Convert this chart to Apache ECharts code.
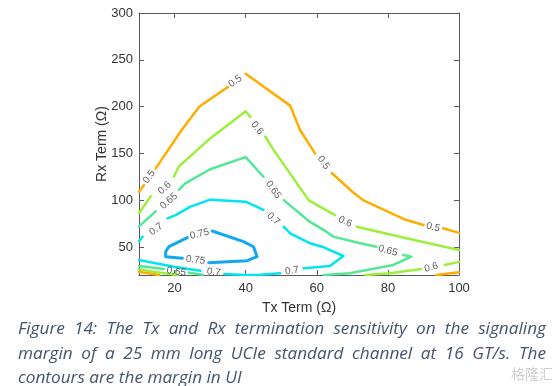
<!DOCTYPE html>
<html>
<head>
<meta charset="utf-8">
<script src="https://cdn.jsdelivr.net/npm/echarts@6/dist/echarts.min.js"></script>
<style>
  html, body { margin:0; padding:0; background:#fff; }
  #wrap { position:relative; width:556px; height:386px; overflow:hidden; }
  #chart { position:absolute; left:0; top:0; width:556px; height:386px; }
  .cap { position:absolute; left:18px; width:528px; font-family:"Open Sans", sans-serif; font-style:italic; font-size:17.2px; color:#44546A; line-height:24px; white-space:nowrap; }
  .just { text-align:justify; text-align-last:justify; white-space:normal; }
  #wm { position:absolute; left:511px; top:364px; font-family:"Noto Sans CJK SC", sans-serif; font-size:14px; line-height:18px; color:#cfcfcf; }
</style>
</head>
<body>
<div id="wrap">
  <div id="chart"></div>
  <div class="cap just" style="top:316px;">Figure 14: The Tx and Rx termination sensitivity on the signaling</div>
  <div class="cap just" style="top:341px;">margin of a 25 mm long UCIe standard channel at 16 GT/s. The</div>
  <div class="cap" style="top:365px;">contours are the margin in UI</div>
  <div id="wm">格隆汇</div>
</div>
<script>
// ---- data ----
const xTicks = [20, 40, 60, 80, 100];
const yTicks = [50, 100, 150, 200, 250, 300];
const levelNames = ['0.5', '0.6', '0.65', '0.7', '0.75'];

// contour segments (Tx, Rx) per level; gaps are where the inline labels sit
const contour050 = [
  [[10,109],[11.4,116]],
  [[14.7,134],[22,175],[27,200],[35,221]],
  [[40,235],[52.5,201],[55.3,175],[59.5,150]],
  [[64.2,129],[70,109],[73,100],[85,79],[90,73.4]],
  [[95.5,70],[100,65]],
  [[10,23.5],[15.6,20]],
  [[93.6,20],[100,22.9]]
];
const contour060 = [
  [[10,86],[13.3,104]],
  [[19.8,125],[21.2,136],[30,166],[40,195],[41.3,189]],
  [[45.5,168],[47.8,154],[57.7,100],[65.1,84]],
  [[71.2,71.6],[85.2,59.2],[100,46.7]],
  [[73.6,20],[80.6,21.8],[89.4,26.4]],
  [[96,30.7],[100,34]],
  [[10,26],[16,22.5],[21,20]]
];
const contour065 = [
  [[10,72],[14.7,88]],
  [[21.2,111],[23,118],[30,133],[40,146],[45,125]],
  [[50.7,100],[58,77],[62,68],[64.6,61],[72.2,53.9],[76.8,50.2]],
  [[84.3,41.4],[86.6,39.6],[81.5,30.7],[69.3,21.8],[62,20]],
  [[10,29.5],[17,26.5]],
  [[24,22.5],[28,20.3]]
];
const contour070 = [
  [[10,56],[11,61]],
  [[18,80.6],[20.3,84],[24.5,93],[30,100.5],[40,98.3],[45,89.5]],
  [[50.7,71.6],[52.5,64.6],[58,54],[62,49.6],[67.5,40.3],[63.7,29.6],[56.3,27.2]],
  [[49.7,21.8],[44,20.3],[40.4,20],[34,21]],
  [[27.3,24.6],[19.8,28.9],[10,36]]
];
const contour075 = [
  [[30.6,67],[39.4,55.6],[42.2,50.2],[43.2,39.6],[40.4,35.3],[29.6,33.2]],
  [[22.2,37.8],[17.5,39.6],[17.5,44.9],[18.4,50.3],[23.6,59.9]]
];

// inline label anchor points (Tx, Rx) per level
const labels050 = [[12.9,125],[37.1,227],[61.9,140],[92.7,71]];
const labels060 = [[17.2,113],[43.2,177],[68,77],[92.2,28]];
const labels065 = [[18.4,99],[47.8,111],[80,46],[20.5,23.5]];
const labels070 = [[14.8,69],[47.8,80],[53,24.5],[31,23]];
const labels075 = [[25.9,36],[27,63.8]];

// ---- styling (not data) ----
const levelColors = ['#FFAE00', '#9CF03C', '#52E896', '#00E6F0', '#12A8F0'];
const labelRot = [
  [55, 36, -55, -14],
  [42, -53, -25, 15],
  [40, -55, -15, -8],
  [35, -42, 8, -8],
  [-8, 14]
];

const contours = [contour050, contour060, contour065, contour070, contour075];
const labelSets = [labels050, labels060, labels065, labels070, labels075];

const series = [];
contours.forEach((segs, li) => {
  segs.forEach(seg => {
    series.push({
      type: 'line', data: seg, xAxisIndex: 0, yAxisIndex: 0,
      showSymbol: false, symbol: 'none', silent: true, animation: false,
      lineStyle: { color: levelColors[li], width: li === 4 ? 3 : 2.5, cap: 'round', join: 'round' },
      clip: true, z: 2
    });
  });
});
labelSets.forEach((pts, li) => {
  series.push({
    type: 'scatter', xAxisIndex: 0, yAxisIndex: 0, animation: false, silent: true,
    symbolSize: 1, itemStyle: { color: 'rgba(0,0,0,0)' }, z: 5,
    data: pts.map((p, i) => ({
      value: p,
      label: { show: true, position: 'inside', formatter: levelNames[li], rotate: labelRot[li][i],
        color: '#333', fontSize: 10, fontFamily: 'Liberation Sans' }
    }))
  });
});

const axisCol = '#5a5a5a';
const chart = echarts.init(document.getElementById('chart'), null, { renderer: 'canvas' });
chart.setOption({
  animation: false,
  grid: { left: 139, top: 13, width: 320, height: 262, containLabel: false },
  xAxis: [
    { type: 'value', min: 10, max: 100, position: 'bottom',
      axisLine: { show: true, onZero: false, lineStyle: { color: axisCol, width: 1 } },
      axisTick: { show: true, inside: true, length: 5, customValues: xTicks, lineStyle: { color: axisCol } },
      axisLabel: { customValues: xTicks, color: '#333', fontSize: 13, fontFamily: 'Liberation Sans', margin: 7 },
      splitLine: { show: false },
      name: 'Tx Term (Ω)', nameLocation: 'middle', nameGap: 26, nameMoveOverlap: false,
      nameTextStyle: { color: '#333', fontSize: 14, fontFamily: 'Liberation Sans' } },
    { type: 'value', min: 10, max: 100, position: 'top',
      axisLine: { show: true, onZero: false, lineStyle: { color: axisCol, width: 1 } },
      axisTick: { show: true, inside: true, length: 5, customValues: xTicks, lineStyle: { color: axisCol } },
      axisLabel: { show: false }, splitLine: { show: false } }
  ],
  yAxis: [
    { type: 'value', min: 20, max: 300, position: 'left',
      axisLine: { show: true, onZero: false, lineStyle: { color: axisCol, width: 1 } },
      axisTick: { show: true, inside: true, length: 5, customValues: yTicks, lineStyle: { color: axisCol } },
      axisLabel: { customValues: yTicks, color: '#333', fontSize: 13, fontFamily: 'Liberation Sans', margin: 6 },
      splitLine: { show: false },
      name: 'Rx Term (Ω)', nameLocation: 'middle', nameGap: 30, nameMoveOverlap: false,
      nameTextStyle: { color: '#333', fontSize: 14, fontFamily: 'Liberation Sans' } },
    { type: 'value', min: 20, max: 300, position: 'right',
      axisLine: { show: true, onZero: false, lineStyle: { color: axisCol, width: 1 } },
      axisTick: { show: true, inside: true, length: 5, customValues: yTicks, lineStyle: { color: axisCol } },
      axisLabel: { show: false }, splitLine: { show: false } }
  ],
  series: series
});
</script>
</body>
</html>
